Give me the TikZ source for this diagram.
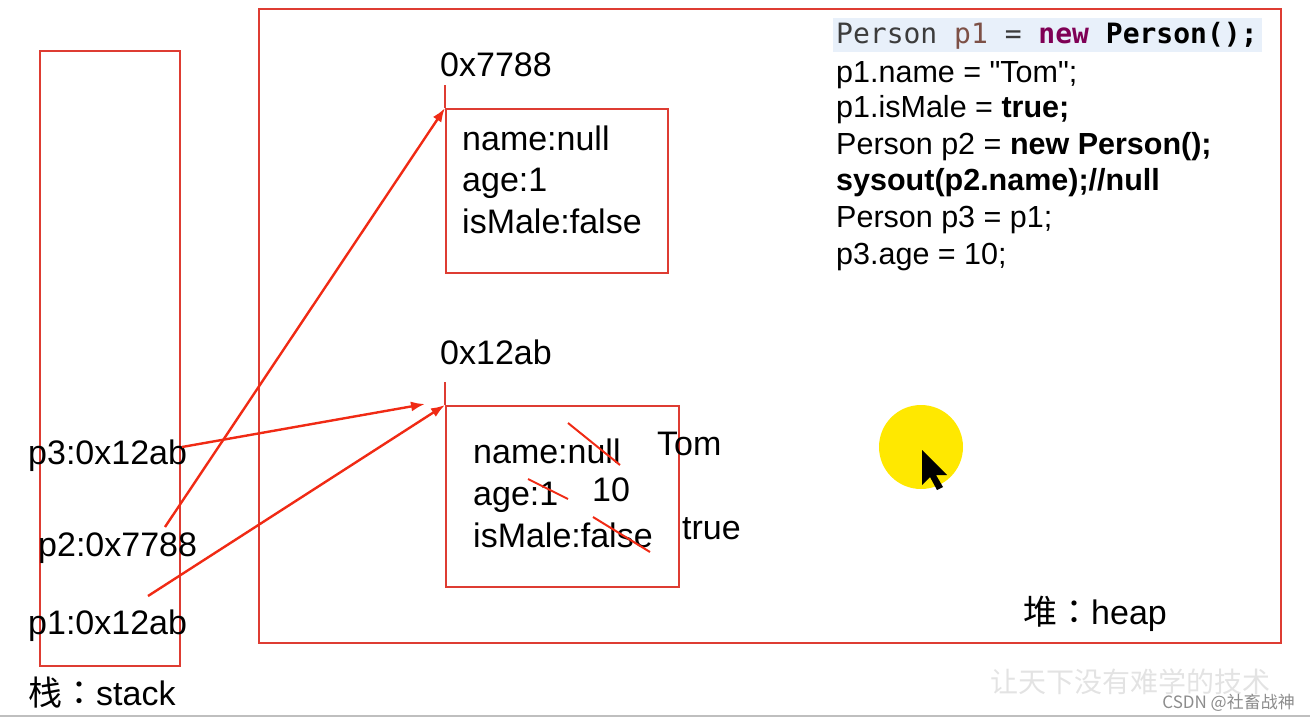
\documentclass[tikz,border=0pt]{standalone}
\usepackage{fontspec}
\setmainfont{Liberation Sans}[Ligatures=TeXOff]
\setmonofont{DejaVu Sans Mono}
\newfontfamily\cjk{Noto Sans CJK SC}
\newfontfamily\cjkpunct{Noto Sans CJK TC}
\usetikzlibrary{arrows.meta}
\definecolor{boxred}{RGB}{222,60,50}
\definecolor{arrowred}{RGB}{240,42,20}
\definecolor{codebg}{RGB}{232,240,250}
\definecolor{codegray}{RGB}{60,60,60}
\definecolor{codebrown}{RGB}{125,80,70}
\definecolor{codepurple}{RGB}{127,0,85}
\definecolor{markyellow}{RGB}{255,232,0}

\begin{document}
\begin{tikzpicture}[x=1pt,y=-1pt,
  memrect/.style={draw=boxred,line width=1.6pt,inner sep=0pt,anchor=north west},
  refarrow/.style={draw=arrowred,line width=2.4pt,-{Latex[length=14pt,width=10pt]}},
  strike/.style={draw=arrowred,line width=2pt},
  lbl/.style={inner sep=0pt,anchor=base west,font=\fontsize{34}{40}\selectfont},
  codeline/.style={inner sep=0pt,anchor=base west,font=\fontsize{30.5}{36}\selectfont}]
  \useasboundingbox (0,0) rectangle (1310,718);
  % stack and heap areas
  \node[memrect,minimum width=140pt,minimum height=615pt] (stack) at (39,50) {};
  \node[memrect,minimum width=1022pt,minimum height=634pt] (heap) at (258,8) {};
  \node[lbl] (stacklbl) at (28,705) {{\cjk 栈}{\cjkpunct ：}stack};
  \node[lbl] (heaplbl) at (1023,624) {{\cjk 堆}{\cjkpunct ：}heap};
  % objects in the heap
  \node[memrect,minimum width=222pt,minimum height=164pt] (obj1) at (445,108) {};
  \node[memrect,minimum width=233pt,minimum height=181pt] (obj2) at (445,405) {};
  \node[lbl] (addr1) at (440,76) {0x7788};
  \node[lbl] (addr2) at (440,364) {0x12ab};
  \draw[boxred,line width=2pt] (obj1.north west) -- ++(0,-23);
  \draw[boxred,line width=2pt] (obj2.north west) -- ++(0,-23);
  % fields of 0x7788
  \node[lbl] (name1) at (462,150) {name:null};
  \node[lbl] (age1) at (462,191) {age:1};
  \node[lbl] (male1) at (462,233) {isMale:false};
  % fields of 0x12ab
  \node[lbl] (name2) at (473,463) {name:null};
  \node[lbl] (age2) at (473,505) {age:1};
  \node[lbl] (male2) at (473,547) {isMale:false};
  \node[lbl] (tom) at (657,455) {Tom};
  \node[lbl] (ten) at (592,501) {10};
  \node[lbl] (true) at (682,539) {true};
  % crossed out values
  \draw[strike] (568,423) -- (620,465);
  \draw[strike] (528,479) -- (568,499);
  \draw[strike] (593,517) -- (650,552);
  % references on the stack
  \node[lbl] (p3) at (28,464) {p3:0x12ab};
  \node[lbl] (p2) at (38,556) {p2:0x7788};
  \node[lbl] (p1) at (28,634) {p1:0x12ab};
  \coordinate (p3out) at (182,447);
  \coordinate (p2out) at (165,527);
  \coordinate (p1out) at (148,596);
  \coordinate (p3in) at (425,404);
  \draw[refarrow] (p3out) -- (p3in);
  \draw[refarrow] (p2out) -- (obj1.north west);
  \draw[refarrow] (p1out) -- (obj2.north west);
  % code
  \fill[codebg] (833,18) rectangle (1262,52);
  \node[inner sep=0pt,anchor=base west,font=\fontsize{28}{34}\selectfont\ttfamily] (c1) at (836,43)
    {{\color{codegray}Person} {\color{codebrown}p1} {\color{codegray}=} \textbf{\color{codepurple}new} \textbf{Person();}};
  \node[codeline] (c2) at (836,82) {p1.name = "Tom";};
  \node[codeline] (c3) at (836,117) {p1.isMale = \textbf{true;}};
  \node[codeline] (c4) at (836,154) {Person p2 = \textbf{new Person();}};
  \node[codeline] (c5) at (836,190) {\textbf{sysout(p2.name);//null}};
  \node[codeline] (c6) at (836,227) {Person p3 = p1;};
  \node[codeline] (c7) at (836,264) {p3.age = 10;};
  % mouse pointer
  \fill[markyellow] (921,447) circle (42);
  \fill[black] (922,450) -- ++(0,35) -- ++(8,-8) -- ++(7,13) -- ++(6,-3) -- ++(-7,-12) -- ++(11,0) -- cycle;
  % watermark
  \node[inner sep=0pt,anchor=base west,text=black!11,font=\cjk\fontsize{28}{30}\selectfont] (wm) at (990,692) {让天下没有难学的技术};
  \node[inner sep=0pt,anchor=base east,text=black!45,font=\cjk\fontsize{17}{20}\selectfont] (csdn) at (1295,708) {CSDN @社畜战神};
  \draw[black!25,line width=1.5pt] (0,716) -- (1310,716);
\end{tikzpicture}
\end{document}
